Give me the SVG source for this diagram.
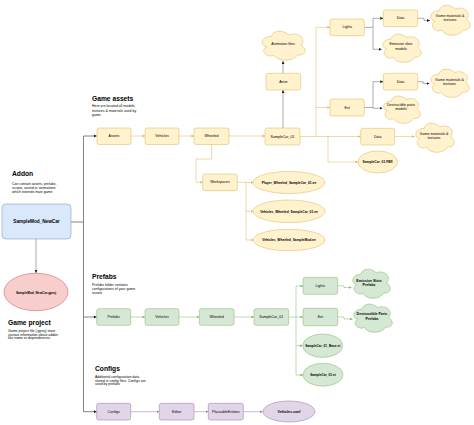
<svg xmlns="http://www.w3.org/2000/svg" xmlns:xlink="http://www.w3.org/1999/xlink" width="474" height="425" viewBox="0 0 474 425">
<style>
text{font-family:"Liberation Sans",Arial,sans-serif;fill:#000}
.t{font-size:6.7px;font-weight:bold}
.d{font-size:3.5px}
.n{font-size:3.6px;text-anchor:middle;dominant-baseline:central}
.b{font-weight:bold}
.y{fill:#fff2cc;stroke:#d6b656;stroke-width:0.5}
.g{fill:#d5e8d4;stroke:#82b366;stroke-width:0.5}
.p{fill:#e1d5e7;stroke:#9673a6;stroke-width:0.5}
.bl{fill:#dae8fc;stroke:#6c8ebf;stroke-width:0.5}
.r{fill:#f8cecc;stroke:#b85450;stroke-width:0.5}
.cy{fill:#fff2cc;stroke:#d6b656;stroke-width:0.5}
.cg{fill:#d5e8d4;stroke:#82b366;stroke-width:0.5}
.ly{fill:none;stroke:#d6b656;stroke-width:0.5}
.lg{fill:none;stroke:#82b366;stroke-width:0.5}
.lp{fill:none;stroke:#9673a6;stroke-width:0.5}
.lk{fill:none;stroke:#333;stroke-width:0.6}
.lm{fill:none;stroke:#777;stroke-width:0.6}
</style>
<defs>
<marker id="ay" viewBox="0 0 6 6" refX="6" refY="3" markerWidth="2.6" markerHeight="2.6" markerUnits="userSpaceOnUse" orient="auto"><path d="M0 0L6 3L0 6Z" fill="#d6b656"/></marker>
<marker id="ag" viewBox="0 0 6 6" refX="6" refY="3" markerWidth="2.6" markerHeight="2.6" markerUnits="userSpaceOnUse" orient="auto"><path d="M0 0L6 3L0 6Z" fill="#82b366"/></marker>
<marker id="ap" viewBox="0 0 6 6" refX="6" refY="3" markerWidth="2.6" markerHeight="2.6" markerUnits="userSpaceOnUse" orient="auto"><path d="M0 0L6 3L0 6Z" fill="#9673a6"/></marker>
<marker id="ak" viewBox="0 0 6 6" refX="6" refY="3" markerWidth="3" markerHeight="3" markerUnits="userSpaceOnUse" orient="auto"><path d="M0 0L6 3L0 6Z" fill="#111"/></marker>
<marker id="am" viewBox="0 0 6 6" refX="6" refY="3" markerWidth="3" markerHeight="3" markerUnits="userSpaceOnUse" orient="auto"><path d="M0 0L6 3L0 6Z" fill="#222"/></marker>
<symbol id="cloud" viewBox="0 0 100 100" preserveAspectRatio="none" overflow="visible">
<path vector-effect="non-scaling-stroke" d="M25 25C5 25 0 50 16 55C0 66 18 90 31 80C40 100 70 100 80 80C100 80 100 60 87.5 50C100 30 80 10 62.5 20C50 5 30 5 25 25Z"/>
</symbol>
</defs>

<!-- section texts -->
<text class="t" x="92" y="100.5">Game assets</text>
<text class="d" x="92" y="107.3">Here are located all models,</text>
<text class="d" x="92" y="111.6">textures &amp; materials used by</text>
<text class="d" x="92" y="115.9">game</text>

<text class="t" x="12" y="176.4">Addon</text>
<text class="d" x="12" y="184.6">Can contain assets, prefabs,</text>
<text class="d" x="12" y="188.8">scripts, sound or animations</text>
<text class="d" x="12" y="193">which extends main game</text>

<text class="t" x="8" y="324.5">Game project</text>
<text class="d" x="8" y="332.3">Game project file (.gproj) store</text>
<text class="d" x="8" y="335.8">various information about addon</text>
<text class="d" x="8" y="339.3">like name or dependencies.</text>

<text class="t" x="92" y="278.5">Prefabs</text>
<text class="d" x="92" y="286">Prefabs folder contains</text>
<text class="d" x="92" y="290">configurations of your game</text>
<text class="d" x="92" y="294">assets</text>

<text class="t" x="95" y="370.8">Configs</text>
<text class="d" x="95" y="378">Additional configuration data</text>
<text class="d" x="95" y="381.5">stored in config files. Configs are</text>
<text class="d" x="95" y="385">used by prefabs</text>

<g id="connectors">
<!-- trunk -->
<path class="lk" d="M71 222H83.5"/>
<path class="lk" d="M83.5 136V411.7"/>
<path class="lk" d="M83.5 136H96.7" marker-end="url(#ak)"/>
<path class="lk" d="M83.5 317H96.7" marker-end="url(#ak)"/>
<path class="lk" d="M83.5 411.7H96.7" marker-end="url(#ak)"/>
<path class="lm" d="M36 239V273" marker-end="url(#am)"/>

<!-- game assets -->
<path class="ly" d="M131 136H145" marker-end="url(#ay)"/>
<path class="ly" d="M179 136H194" marker-end="url(#ay)"/>
<path class="ly" d="M229 136H265" marker-end="url(#ay)"/>
<path class="ly" d="M300 136.5H360.7" marker-end="url(#ay)"/>
<path class="ly" d="M316 136.5V27.3H330" marker-end="url(#ay)"/>
<path class="ly" d="M316 107.5H330" marker-end="url(#ay)"/>
<path class="ly" d="M328 136.5V162H358" marker-end="url(#ay)"/>
<path class="lm" d="M283 128V90" marker-end="url(#am)"/>
<path class="lm" d="M283 73.3V61" marker-end="url(#am)"/>
<path class="lm" d="M364.3 27.3H373V18.3H383.3" marker-end="url(#am)"/>
<path class="lm" d="M373 27.3V49.3H381.7" marker-end="url(#am)"/>
<path class="lm" d="M417.7 18.3H424V20.5H430" marker-end="url(#am)"/>
<path class="lm" d="M364.3 107.5H373V81.7H383.3" marker-end="url(#am)"/>
<path class="lm" d="M373 107.5V108.3H382.5" marker-end="url(#am)"/>
<path class="lm" d="M417.7 81.7H423V83.5H429.5" marker-end="url(#am)"/>
<path class="ly" d="M394.7 136.5H414.5" marker-end="url(#ay)"/>
<path class="ly" d="M211.7 144V159H196V182.3H202.7" marker-end="url(#ay)"/>
<path class="ly" d="M237.3 182.3H246"/>
<path class="ly" d="M246 182.3V240"/>
<path class="ly" d="M246 182.5H253.3" marker-end="url(#ay)"/>
<path class="ly" d="M246 211.3H253.3" marker-end="url(#ay)"/>
<path class="ly" d="M246 240H253.3" marker-end="url(#ay)"/>

<!-- prefabs -->
<path class="lg" d="M130.7 317H145" marker-end="url(#ag)"/>
<path class="lg" d="M179 317H199.3" marker-end="url(#ag)"/>
<path class="lg" d="M234 317H254" marker-end="url(#ag)"/>
<path class="lg" d="M288.7 317H296"/>
<path class="lg" d="M296 286V375"/>
<path class="lg" d="M296 286H303" marker-end="url(#ag)"/>
<path class="lg" d="M296 317H303" marker-end="url(#ag)"/>
<path class="lg" d="M296 345.7H302.7" marker-end="url(#ag)"/>
<path class="lg" d="M296 375H303" marker-end="url(#ag)"/>
<path class="lg" d="M337.7 285.8H344V287.5H351.5" marker-end="url(#ag)"/>
<path class="lg" d="M337.7 317H344V319H352.5" marker-end="url(#ag)"/>

<!-- configs -->
<path class="lp" d="M130.7 411.7H159.3" marker-end="url(#ap)"/>
<path class="lp" d="M194 411.7H208.3" marker-end="url(#ap)"/>
<path class="lp" d="M243.3 411.7H262.7" marker-end="url(#ap)"/>
</g>

<!-- addon -->
<g id="n-addon"><rect class="bl" x="2" y="204" width="69" height="35" rx="4"/><text class="n b" x="36.5" y="221.5" style="font-size:4.7px">SampleMod_NewCar</text></g>
<g id="n-gproj"><ellipse class="r" cx="36" cy="292" rx="32" ry="18.7"/><text class="n b" x="36" y="293.3" style="font-size:3.2px">SampleMod_NewCar.gproj</text></g>

<!-- game assets nodes -->
<g id="n-assets"><rect class="y" x="97" y="128" width="34" height="16.5" rx="2"/><text class="n" x="114" y="136.2">Assets</text></g>
<g id="n-vehicles"><rect class="y" x="145" y="128" width="34" height="16.5" rx="2"/><text class="n" x="162" y="136.2">Vehicles</text></g>
<g id="n-wheeled"><rect class="y" x="194" y="128" width="35" height="16.5" rx="2"/><text class="n" x="211.5" y="136.2">Wheeled</text></g>
<g id="n-samplecar"><rect class="y" x="265" y="128" width="35" height="17" rx="2"/><text class="n" x="282.5" y="136.5">SampleCar_01</text></g>
<g id="n-anim"><rect class="y" x="266" y="73.3" width="34.7" height="16.7" rx="2"/><text class="n" x="283.3" y="81.7">Anim</text></g>
<g id="n-animfiles"><use href="#cloud" class="cy" x="259" y="28" width="48" height="34"/><text class="n" x="283" y="44.3">Animation files</text></g>
<g id="n-lights"><rect class="y" x="330" y="19" width="34.3" height="16.7" rx="2"/><text class="n" x="347.2" y="27.3">Lights</text></g>
<g id="n-lights-data"><rect class="y" x="383.3" y="10" width="34.4" height="16.7" rx="2"/><text class="n" x="400.5" y="18.3">Data</text></g>
<g id="n-lights-mat"><use href="#cloud" class="cy" x="428" y="2" width="44" height="35"/><text class="n" x="450" y="15.7">Game materials &amp;</text><text class="n" x="450" y="20">textures</text></g>
<g id="n-emissive"><use href="#cloud" class="cy" x="380" y="31" width="43" height="33"/><text class="n" x="401" y="44.3">Emissive slots</text><text class="n" x="401" y="48.7">models</text></g>
<g id="n-ext"><rect class="y" x="330" y="99" width="34.3" height="17" rx="2"/><text class="n" x="347.2" y="107.5">Ext</text></g>
<g id="n-ext-data"><rect class="y" x="383.3" y="73.3" width="34.4" height="16.7" rx="2"/><text class="n" x="400.5" y="81.7">Data</text></g>
<g id="n-ext-mat"><use href="#cloud" class="cy" x="428" y="66" width="43" height="33"/><text class="n" x="449.5" y="80">Game materials &amp;</text><text class="n" x="449.5" y="84.3">textures</text></g>
<g id="n-destructible"><use href="#cloud" class="cy" x="381" y="93" width="41" height="32"/><text class="n" x="401" y="105">Destructible parts</text><text class="n" x="401" y="109.3">models</text></g>
<g id="n-data"><rect class="y" x="360.7" y="128.3" width="34" height="16.7" rx="2"/><text class="n" x="377.7" y="136.6">Data</text></g>
<g id="n-data-mat"><use href="#cloud" class="cy" x="413" y="120" width="43" height="34"/><text class="n" x="434" y="134">Game materials &amp;</text><text class="n" x="434" y="138.3">textures</text></g>
<g id="n-fbx"><ellipse class="y" cx="377.7" cy="162" rx="19.7" ry="11"/><text class="n b" x="377.7" y="162.2" style="font-size:3.3px">SampleCar_01.FBX</text></g>
<g id="n-workspaces"><rect class="y" x="202.7" y="174" width="34.6" height="16.7" rx="2"/><text class="n" x="220" y="182.3">Workspaces</text></g>
<g id="n-ws1"><ellipse class="y" cx="289" cy="182.5" rx="36" ry="11"/><text class="n b" x="289" y="182.7" style="font-size:3.3px">Player_Wheeled_SampleCar_01.ee</text></g>
<g id="n-ws2"><ellipse class="y" cx="289" cy="211.3" rx="36" ry="11.3"/><text class="n b" x="289" y="211.5" style="font-size:3.3px">Vehicles_Wheeled_SampleCar_01.ee</text></g>
<g id="n-ws3"><ellipse class="y" cx="289" cy="240" rx="36" ry="10.7"/><text class="n b" x="289" y="240.2" style="font-size:3.3px">Vehicles_Wheeled_SampleMod.ee</text></g>

<!-- prefabs nodes -->
<g id="n-prefabs"><rect class="g" x="96.7" y="308.7" width="34" height="16.6" rx="2"/><text class="n" x="113.7" y="317">Prefabs</text></g>
<g id="n-p-vehicles"><rect class="g" x="145" y="308.7" width="34" height="16.6" rx="2"/><text class="n" x="162" y="317">Vehicles</text></g>
<g id="n-p-wheeled"><rect class="g" x="199.3" y="308.7" width="34.7" height="16.6" rx="2"/><text class="n" x="216.7" y="317">Wheeled</text></g>
<g id="n-p-samplecar"><rect class="g" x="254" y="308.7" width="34.7" height="16.6" rx="2"/><text class="n" x="271.3" y="317">SampleCar_01</text></g>
<g id="n-p-lights"><rect class="g" x="303" y="277.3" width="34.7" height="17" rx="2"/><text class="n" x="320.3" y="285.8">Lights</text></g>
<g id="n-p-ext"><rect class="g" x="303" y="308.3" width="34.7" height="17.4" rx="2"/><text class="n" x="320.3" y="317">Ext</text></g>
<g id="n-p-base"><ellipse class="g" cx="322.7" cy="345.7" rx="20" ry="11.7"/><text class="n b" x="322.7" y="345.9" style="font-size:3.2px">SampleCar_01_Base.et</text></g>
<g id="n-p-et"><ellipse class="g" cx="323" cy="374.7" rx="20" ry="11.5"/><text class="n b" x="323" y="374.9" style="font-size:3.2px">SampleCar_01.et</text></g>
<g id="n-p-emissive"><use href="#cloud" class="cg" x="350" y="266" width="42" height="34"/><text class="n b" x="369" y="280.7">Emissive Slots</text><text class="n b" x="369" y="284.8">Prefabs</text></g>
<g id="n-p-destructible"><use href="#cloud" class="cg" x="351" y="301" width="43" height="33"/><text class="n b" x="372" y="314.3">Destructible Parts</text><text class="n b" x="372" y="318.6">Prefabs</text></g>

<!-- configs nodes -->
<g id="n-configs"><rect class="p" x="96.7" y="403.3" width="34" height="16.7" rx="2"/><text class="n" x="113.7" y="411.7">Configs</text></g>
<g id="n-editor"><rect class="p" x="159.3" y="403.3" width="34.7" height="16.7" rx="2"/><text class="n" x="176.7" y="411.7">Editor</text></g>
<g id="n-placeable"><rect class="p" x="208.3" y="403.3" width="35" height="16.7" rx="2"/><text class="n" x="225.8" y="411.7">PlaceableEntities</text></g>
<g id="n-vehconf"><ellipse class="p" cx="289" cy="411.5" rx="26" ry="10.5"/><text class="n b" x="289" y="411.7">Vehicles.conf</text></g>
</svg>
